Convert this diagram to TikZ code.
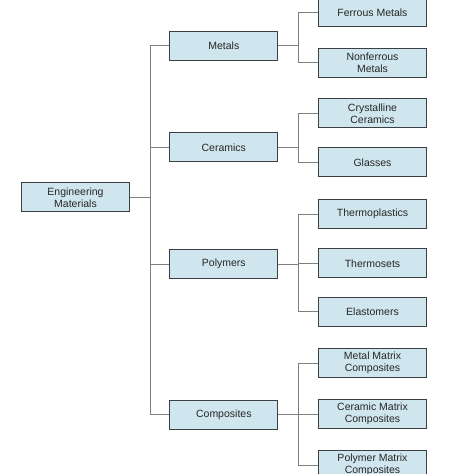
\documentclass[tikz,border=0pt]{standalone}
\usepackage{fontspec}
\setmainfont{Liberation Sans}
\definecolor{boxfill}{HTML}{D0E6EE}
\definecolor{boxline}{HTML}{3A3F42}
\definecolor{conn}{HTML}{7F7F7F}
\begin{document}
\begin{tikzpicture}[x=1pt,y=-1pt,
  box/.style={draw=boxline,fill=boxfill,line width=1.2pt,minimum width=108pt,minimum height=29pt,
    inner sep=1pt,align=center,font=\fontsize{10.5}{12}\selectfont,text=black!85},
  link/.style={draw=conn,line width=1pt}]
\useasboundingbox (0,0) rectangle (474,474);
\begin{scope}
\clip (0,0) rectangle (474,474);
\node[box] (eng) at (75.5,197.3) {Engineering\\Materials};
\node[box] (met) at (223.8,45.7) {Metals};
\node[box] (cer) at (223.8,147.3) {Ceramics};
\node[box] (pol) at (223.8,264) {Polymers};
\node[box] (com) at (223.8,414.7) {Composites};
\node[box] (fer) at (372.5,12.3) {Ferrous Metals};
\node[box] (non) at (372.5,62.7) {Nonferrous\\Metals};
\node[box] (cry) at (372.5,113.3) {Crystalline\\Ceramics};
\node[box] (gla) at (372.5,162.3) {Glasses};
\node[box] (tpl) at (372.5,214) {Thermoplastics};
\node[box] (tst) at (372.5,263.3) {Thermosets};
\node[box] (ela) at (372.5,311.7) {Elastomers};
\node[box] (mmc) at (372.5,363) {Metal Matrix\\Composites};
\node[box] (cmc) at (372.5,414) {Ceramic Matrix\\Composites};
\node[box] (pmc) at (372.5,465) {Polymer Matrix\\Composites};
\coordinate (t) at (150,0);
\coordinate (b) at (298.3,0);
\begin{scope}[on background layer/.style={}]
\draw[link] (eng.east) -- (t |- eng.east);
\draw[link] (t |- met.west) -- (t |- com.west);
\foreach \p in {met,cer,pol,com} \draw[link] (t |- \p.west) -- (\p.west);
\foreach \p/\a/\z in {met/fer/non,cer/cry/gla,pol/tpl/ela,com/mmc/pmc}{
  \draw[link] (\p.east) -- (b |- \p.east);
  \draw[link] (\a.west) -- (b |- \a.west) -- (b |- \z.west) -- (\z.west);
}
\draw[link] (b |- tst.west) -- (tst.west);
\draw[link] (b |- cmc.west) -- (cmc.west);
\end{scope}
\end{scope}
\end{tikzpicture}
\end{document}
